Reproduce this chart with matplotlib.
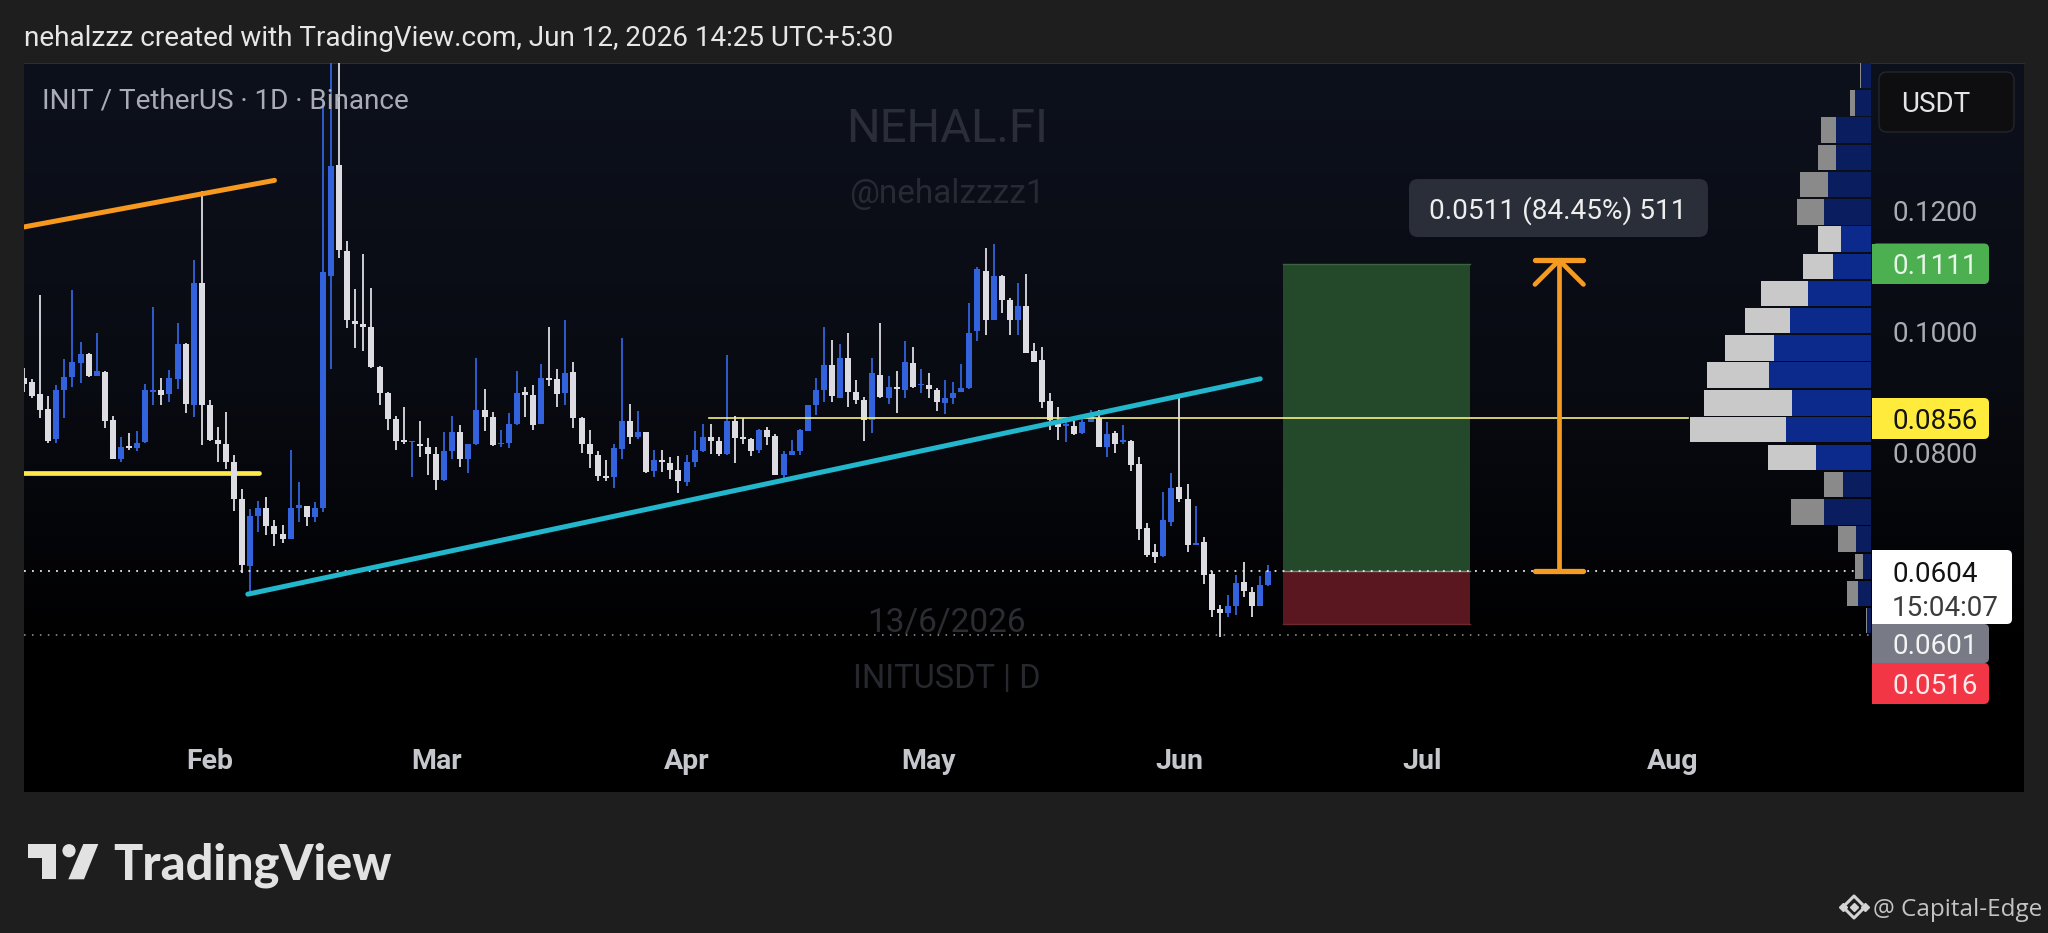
import matplotlib
matplotlib.use('Agg')
import numpy as np
import matplotlib.pyplot as plt
from matplotlib.colors import LinearSegmentedColormap
from matplotlib.patches import FancyBboxPatch, Polygon, Circle, Rectangle

plt.rcParams['font.family'] = ['Roboto', 'DejaVu Sans']

# daily candles, INIT / USDT, starting Jan 9
opens = [.0922,.0915,.0896,.0871,.0822,.0902,.0924,.0947,.0962,.0925,
         .0933,.0853,.0789,.0810,.0806,.0816,.0900,.0902,.0896,.0920,
         .0978,.0877,.1079,.0877,.0820,.0814,.0783,.0723,.0612,.0694,
         .0708,.0677,.0665,.0657,.0707,.0710,.0692,.0708,.1091,.1274,
         .1133,.1017,.1012,.1006,.0941,.0898,.0855,.0820,.0816,.0814,
         .0809,.0796,.0754,.0802,.0833,.0789,.0813,.0869,.0858,.0813,
         .0815,.0846,.0899,.0895,.0846,.0922,.0921,.0897,.0932,.0857,
         .0814,.0795,.0761,.0759,.0805,.0852,.0824,.0833,.0769,.0787,
         .0781,.0770,.0751,.0783,.0802,.0825,.0819,.0796,.0851,.0824,
         .0821,.0803,.0836,.0826,.0762,.0795,.0801,.0835,.0877,.0903,
         .0943,.0890,.0956,.0900,.0886,.0853,.0928,.0890,.0908,.0903,
         .0947,.0910,.0910,.0903,.0881,.0889,.0899,.0906,.1000,.1099,
         .1019,.1091,.1052,.1019,.1041,.0967,.0952,.0885,.0851,.0843,
         .0843,.0831,.0850,.0856,.0809,.0831,.0816,.0819,.0780,.0674,
         .0634,.0628,.0685,.0742,.0723,.0647,.0651,.0598,.0540,.0534,
         .0546,.0585,.0569,.0545,.0580]
highs = [.0939,.0920,.1060,.0893,.0910,.0954,.1068,.0982,.0963,.0997,
         .0934,.0859,.0824,.0832,.0835,.0913,.1040,.0923,.0936,.1014,
         .0980,.1118,.1232,.0886,.0842,.0866,.0795,.0739,.0705,.0719,
         .0726,.0688,.0680,.0803,.0751,.0711,.0718,.1383,.152,.150,
         .1149,.1070,.1128,.1071,.0942,.0899,.0859,.0874,.0819,.0852,
         .0823,.0808,.0833,.0859,.0844,.0814,.0955,.0904,.0866,.0837,
         .0865,.0934,.0908,.0911,.0945,.1007,.0938,.1018,.0949,.0858,
         .0837,.0801,.0787,.0813,.0989,.0879,.0867,.0833,.0804,.0804,
         .0791,.0793,.0795,.0835,.0846,.0846,.0825,.0961,.0860,.0857,
         .0823,.0838,.0841,.0830,.0802,.0820,.0838,.0878,.0923,.1007,
         .0985,.0978,.0996,.0919,.0891,.0955,.1014,.0925,.0934,.0984,
         .0974,.0938,.0930,.0905,.0919,.0915,.0945,.1046,.1105,.1138,
         .1144,.1092,.1055,.1080,.1094,.0980,.0973,.0897,.0874,.0856,
         .0851,.0854,.0869,.0869,.0849,.0835,.0845,.0820,.0792,.0683,
         .0648,.0734,.0765,.0894,.0747,.0711,.0660,.0604,.0547,.0564,
         .0597,.0618,.0577,.0595,.0614]
lows = [.0899,.0890,.0856,.0815,.0815,.0857,.0908,.0914,.0924,.0925,
        .0840,.0788,.0784,.0804,.0801,.0815,.0877,.0877,.0883,.0904,
        .0864,.0858,.0812,.0819,.0784,.0772,.0702,.0600,.0567,.0668,
        .0663,.0644,.0650,.0656,.0685,.0678,.0685,.0700,.0937,.1120,
        .1005,.0972,.0967,.0939,.0878,.0837,.0803,.0813,.0759,.0791,
        .0762,.0738,.0752,.0788,.0776,.0765,.0812,.0835,.0810,.0808,
        .0807,.0845,.0858,.0837,.0846,.0909,.0875,.0877,.0839,.0798,
        .0773,.0752,.0752,.0741,.0789,.0813,.0821,.0766,.0759,.0767,
        .0755,.0733,.0744,.0775,.0800,.0796,.0793,.0795,.0781,.0813,
        .0794,.0798,.0811,.0762,.0757,.0795,.0795,.0834,.0861,.0882,
        .0883,.0890,.0874,.0879,.0819,.0831,.0889,.0879,.0865,.0890,
        .0906,.0898,.0890,.0867,.0862,.0879,.0899,.0904,.0984,.0994,
        .1019,.1029,.0994,.0993,.0964,.0949,.0872,.0836,.0820,.0817,
        .0828,.0830,.0849,.0808,.0792,.0799,.0813,.0769,.0655,.0627,
        .0617,.0627,.0678,.0718,.0635,.0646,.0581,.0527,.0495,.0527,
        .0530,.0560,.0528,.0545,.0579]
closes = [.0913,.0892,.0870,.0819,.0902,.0924,.0949,.0962,.0925,.0934,
          .0852,.0789,.0808,.0807,.0815,.0902,.0903,.0895,.0922,.0978,
          .0879,.1080,.0877,.0820,.0813,.0783,.0722,.0614,.0694,.0708,
          .0677,.0665,.0657,.0707,.0713,.0693,.0708,.1097,.1273,.1134,
          .1019,.1011,.1006,.0941,.0898,.0855,.0819,.0816,.0818,.0810,
          .0796,.0754,.0802,.0833,.0788,.0813,.0869,.0858,.0812,.0815,
          .0846,.0897,.0895,.0845,.0922,.0919,.0896,.0930,.0856,.0814,
          .0796,.0760,.0757,.0807,.0851,.0824,.0833,.0767,.0787,.0783,
          .0771,.0752,.0784,.0803,.0824,.0818,.0796,.0851,.0823,.0821,
          .0802,.0836,.0824,.0762,.0796,.0801,.0836,.0877,.0903,.0943,
          .0892,.0955,.0900,.0886,.0853,.0930,.0891,.0907,.0904,.0948,
          .0908,.0912,.0904,.0882,.0889,.0897,.0906,.0997,.1103,.1018,
          .1091,.1051,.1018,.1042,.0964,.0949,.0883,.0853,.0842,.0846,
          .0830,.0850,.0863,.0809,.0830,.0813,.0820,.0778,.0673,.0630,
          .0627,.0688,.0740,.0722,.0647,.0649,.0597,.0539,.0534,.0545,
          .0583,.0570,.0546,.0580,.0604]

month_days = [23, 51, 82, 112, 143, 173, 204]
month_names = ['Feb', 'Mar', 'Apr', 'May', 'Jun', 'Jul', 'Aug']
price_ticks = [0.08, 0.10, 0.12]

# volume profile rows
vp_levels = [.1422,.1377,.1332,.1287,.1242,.1197,.1152,.1107,.1062,.1017,.0972,
             .0927,.0881,.0837,.0791,.0746,.0701,.0656,.0611,.0566,.0521]
vp_up = [9.7,16.3,35,35,43,46.7,30.3,38.3,62.7,81.3,96.7,102,79.3,84.7,55.3,28.3,47,15.3,7.7,13,4]
vp_down = [1.7,5,15.3,17.7,27.7,27.7,22.3,30,47,45,49,62.3,87.7,96,47.7,18.3,33,17.3,8.3,11,1.3]

# drawings: (day, price)
orange_days, orange_prices = [0, 31], [.1172, .1249]
yellow_days, yellow_prices = [0, 29.1], [.0766, .0766]
cyan_days, cyan_prices = [27.7, 153], [.0565, .0921]
poc_days, poc_prices = [84.8, 206], [.0856, .0856]
entry, target, stop, last_low = .0604, .1111, .0516, .0498
pos_days = [155.8, 179]
arrow_day = 190
arrow_top = .1117

fig = plt.figure(figsize=(20.48, 9.33), dpi=100, facecolor='#1e1e1e')
ax = fig.add_axes([24/2048, (933-792)/933, 2000/2048, (792-63)/933])

# pane background
grad = LinearSegmentedColormap.from_list('pane', [(0, '#000000'), (0.22, '#010102'), (0.55, '#090b12'), (1, '#0d111c')])
ax.imshow(np.linspace(1, 0, 256).reshape(-1, 1), cmap=grad, aspect='auto',
          extent=(0, 1, 0, 1), transform=ax.transAxes, zorder=0)

days = np.arange(len(opens))
o, h, l, c = map(np.array, (opens, highs, lows, closes))
colors = np.where(c >= o, '#3263dc', '#dcdce2')
ax.vlines(days, l, h, colors=colors, linewidth=1.3, zorder=3)
ax.bar(days, np.abs(c-o), bottom=np.minimum(o, c), width=0.74, color=colors, zorder=3)

# position box
ax.fill_between(pos_days, entry, target, color='#23492a', lw=0, zorder=2)
ax.fill_between(pos_days, stop, entry, color='#5a1720', lw=0, zorder=2)
ax.plot(pos_days, [target, target], color='#3a6340', lw=1, zorder=2)
ax.plot(pos_days, [entry, entry], color='#7f8a7f', lw=1, zorder=2)
ax.plot(pos_days, [stop, stop], color='#6a2a30', lw=1, zorder=2)

# dotted price lines
ax.plot([0, 228.8], [entry, entry], color='#e8e8e8', lw=1.3, ls=(0, (1, 3.44)), zorder=4)
ax.plot([0, 228.8], [last_low, last_low], color='#9c9c9c', lw=1.1, ls=(0, (1, 4.2)), zorder=4)

# trend lines
ax.plot(orange_days, orange_prices, color='#f7981f', lw=3.6, solid_capstyle='round', zorder=5)
ax.plot(yellow_days, yellow_prices, color='#ffe94a', lw=3.4, solid_capstyle='round', zorder=2)
ax.plot(cyan_days, cyan_prices, color='#22b7cc', lw=3.6, solid_capstyle='round', zorder=5)
ax.plot(poc_days, poc_prices, color='#f6ef80', lw=1.2, zorder=4)

# long arrow
ax.plot([arrow_day, arrow_day], [entry, arrow_top], color='#f59b22', lw=3.4, zorder=6)
ax.plot([arrow_day-3.0, arrow_day+3.0], [entry, entry], color='#f59b22', lw=3.8, solid_capstyle='round', zorder=6)
ax.plot([arrow_day-3.0, arrow_day+3.0], [arrow_top, arrow_top], color='#f59b22', lw=3.8, solid_capstyle='round', zorder=6)
ax.plot([arrow_day-3.0, arrow_day, arrow_day+3.0], [arrow_top-.0040, arrow_top, arrow_top-.0040],
        color='#f59b22', lw=3.4, solid_capstyle='round', zorder=6)

ax.set_xlim(0, 2000/8.08)
ax.set_ylim(.0238, .1443)
ax.set_xticks(month_days)
ax.set_xticklabels(month_names, fontsize=20.5, fontweight='bold', color='#c5c7cc')
ax.yaxis.tick_right()
ax.set_yticks(price_ticks)
ax.set_yticklabels(['%.4f' % p for p in price_ticks], fontsize=20, color='#a9acb3')
ax.tick_params(axis='x', length=0, pad=-32)
ax.tick_params(axis='y', length=0, pad=-95)
for name, sp in ax.spines.items():
    sp.set_visible(name == 'top')
    sp.set_color('#2a2e39')

# volume profile, one unit is one pixel left of the price scale
vp = ax.twiny()
vp.set_xlim(1847, -153)
vp.xaxis.set_visible(False)
for sp in vp.spines.values():
    sp.set_visible(False)
bright = [6 <= i <= 14 for i in range(len(vp_levels))]
up_col = ['#0b2a8c' if b else '#0a1d5e' for b in bright]
down_col = ['#c9c9c9' if b else '#8a8a8a' for b in bright]
vp.barh(vp_levels, vp_up, height=.0042, color=up_col, lw=0)
vp.barh(vp_levels, vp_down, left=vp_up, height=.0042, color=down_col, lw=0)

# everything else goes on a pixel overlay
ov = fig.add_axes([0, 0, 1, 1])
ov.set_xlim(0, 2048)
ov.set_ylim(933, 0)
ov.axis('off')


def box(x0, y0, x1, y1, col, r=5, edge='none'):
    ov.add_patch(FancyBboxPatch((x0+r, y0+r), x1-x0-2*r, y1-y0-2*r, boxstyle='round,pad=%d,rounding_size=%d' % (r, r),
                                fc=col, ec=edge, lw=1))


def price_label(y0, y1, x1, col, text, tcol, ty=None):
    box(1872, y0, x1, y1, col)
    ov.add_patch(Rectangle((1872, y0), 20, y1-y0, fc=col, ec='none'))
    ov.text(1892, (y0+y1)/2 if ty is None else ty, text, color=tcol, fontsize=20, va='center_baseline', ha='left')


price_label(243.5, 284, 1989, '#4caf50', '0.1111', '#e8f5e9')
price_label(398, 439, 1989, '#ffeb3b', '0.0856', '#131313')
price_label(663, 704, 1989, '#f23645', '0.0516', '#ffe9eb')
price_label(624, 663, 1989, '#787b86', '0.0601', '#f4f4f4')
price_label(550, 624, 2012, '#ffffff', '0.0604', '#131313', ty=571)
ov.text(1892, 605, '15:04:07', color='#3c3c3c', fontsize=20, va='center_baseline', ha='left')

box(1879, 72, 2014, 132, '#0e0e10', r=8, edge='#24262c')
ov.text(1901, 101, 'USDT', color='#e4e4e4', fontsize=20, va='center_baseline')

box(1409, 179, 1708, 237, '#2a2e39', r=9)
ov.text(1558, 207, '0.0511 (84.45%) 511', color='#eeeeee', fontsize=20.2, ha='center', va='center_baseline')

ov.text(24, 36, 'nehalzzz created with TradingView.com, Jun 12, 2026 14:25 UTC+5:30',
        color='#e6e6e6', fontsize=20.05, va='center_baseline')
ov.text(42, 98, 'INIT / TetherUS · 1D · Binance', color='#a9acb5', fontsize=20.05, va='center_baseline')

# watermark
ov.text(947, 125, 'NEHAL.FI', color='#2a2e39', fontsize=34, ha='center', va='center_baseline')
ov.text(947, 190, '@nehalzzzz1', color='#262a33', fontsize=24, ha='center', va='center_baseline')
ov.text(947, 620, '13/6/2026', color='#2b2d33', fontsize=24, ha='center', va='center_baseline')
ov.text(947, 676, 'INITUSDT | D', color='#26282e', fontsize=23.5, ha='center', va='center_baseline')

# logo
logo = '#e2e2e2'
ov.add_patch(Polygon([(28.3, 844), (56, 844), (56, 879.3), (41.7, 879.3), (41.7, 858.3), (28.3, 858.3)], fc=logo, ec='none'))
ov.add_patch(Circle((69, 850.7), 6.6, fc=logo, ec='none'))
ov.add_patch(Polygon([(83.3, 844), (98.3, 844), (84, 879.3), (68.3, 879.3)], fc=logo, ec='none'))
ov.text(113, 879, 'TradingView', color=logo, fontsize=35, fontweight='black', family='Lato', va='baseline')

# credit with binance mark
ov.text(1873, 907, '@ Capital-Edge', color='#c4c4c4', fontsize=17.5, family='Open Sans', va='center_baseline')
mark = '#d4d4d4'
ov.plot([1846, 1854, 1862], [904, 896, 904], color=mark, lw=2.2)
ov.plot([1846, 1854, 1862], [910, 918, 910], color=mark, lw=2.2)
ov.plot([1843, 1854, 1865], [907, 907, 907], ls='none', marker='D', ms=4, color=mark)

fig.savefig('out.png', dpi=100, facecolor=fig.get_facecolor())
